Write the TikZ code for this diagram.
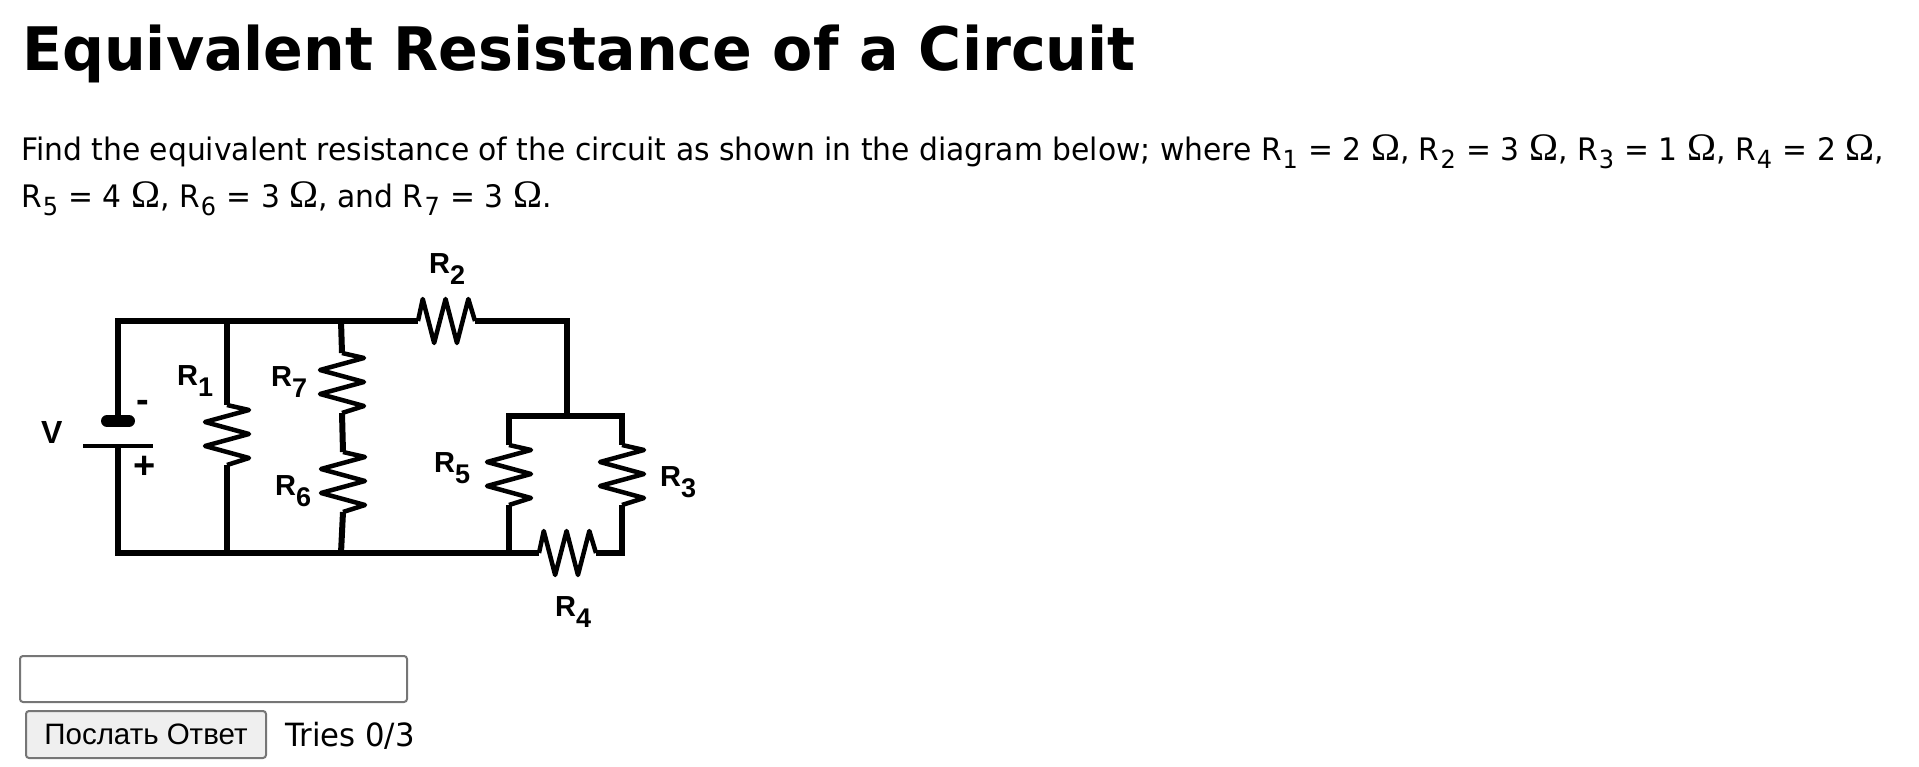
\documentclass[tikz,border=0pt]{standalone}
\usepackage{fontspec}
\setmainfont[FakeStretch=.96]{DejaVu Sans}
\newfontfamily\titlefont[FakeStretch=.977]{DejaVu Sans}
\newfontfamily\omegafont{Liberation Serif}
\newfontfamily\labelfont{Liberation Sans}
\usetikzlibrary{calc, positioning}
\definecolor{btnfill}{HTML}{EFEFEF}
\definecolor{btnline}{HTML}{767676}
\newcommand{\Rsub}[1]{R\hspace{1pt}\raisebox{-8pt}{\fontsize{25}{25}\selectfont #1}\hspace{1pt}}
\newcommand{\ohm}{{\omegafont\fontsize{39}{39}\selectfont\char"03A9}}
\newcommand{\Clabel}[1]{R\raisebox{-11pt}{\fontsize{27}{27}\selectfont #1}}
\tikzset{
	wire/.style={line width=6pt, line join=miter},
	rwire/.style={line width=4.5pt, line join=round},
	txt/.style={anchor=base west, inner sep=0pt, font=\fontsize{31}{31}\selectfont},
	rlabel/.style={anchor=base west, inner sep=0pt, font=\labelfont\bfseries\fontsize{29}{29}\selectfont},
	pics/resistor/.style={code={
		\draw[rwire] (0,0) -- (5,-22) -- (17,22) -- (29,-22) -- (41,22) -- (53,-22) -- (60,0);
		\coordinate (-in) at (0,0);
		\coordinate (-out) at (60,0);
	}}
}
\begin{document}
\begin{tikzpicture}[x=1pt, y=-1pt]
	\useasboundingbox (0,0) rectangle (1919,767);
	\node[txt, font=\titlefont\bfseries\fontsize{60}{60}\selectfont] (title) at (22,71) {Equivalent Resistance of a Circuit};
	\node[txt] (lineone) at (21,160.5) {Find the equivalent resistance of the circuit as shown in the diagram below; where \Rsub{1} = 2 \ohm, \Rsub{2} = 3 \ohm, \Rsub{3} = 1 \ohm, \Rsub{4} = 2 \ohm,};
	\node[txt] (linetwo) at (21,208) {\Rsub{5} = 4 \ohm, \Rsub{6} = 3 \ohm, and \Rsub{7} = 3 \ohm.};

	% corners and joints
	\coordinate (tl) at (118,321);
	\coordinate (tone) at (227,321);
	\coordinate (tsix) at (341,321);
	\coordinate (tr) at (567,321);
	\coordinate (bl) at (118,553);
	\coordinate (bone) at (227,553);
	\coordinate (bsix) at (341,553);
	\coordinate (bfive) at (509,553);
	\coordinate (bthree) at (622,553);
	\coordinate (mid) at (567,416);
	\coordinate (mfive) at (509,416);
	\coordinate (mthree) at (622,416);
	\coordinate (batneg) at (118,421);
	\coordinate (batpos) at (118,446);

	\pic[rotate=-90] (Rone) at (227,405) {resistor};
	\pic[xscale=.95] (Rtwo) at (418,321) {resistor};
	\pic[rotate=-90] (Rthree) at (622,445) {resistor};
	\pic[xscale=.95] (Rfour) at (539,553) {resistor};
	\pic[rotate=-90] (Rfive) at (509,445) {resistor};
	\pic[rotate=-90] (Rsix) at (343,452) {resistor};
	\pic[rotate=-90] (Rseven) at (342,353) {resistor};

	\draw[wire] (batneg) -- (tl) -- (Rtwo-in);
	\draw[wire] (Rtwo-out) -- (tr) -- (mid);
	\draw[wire] (Rfive-in) -- (mfive) -- (mthree) -- (Rthree-in);
	\draw[wire] (batpos) -- (bl) -- (Rfour-in);
	\draw[wire] (Rfour-out) -- (bthree) -- (Rthree-out);
	\draw[wire] (Rfive-out) -- (bfive);
	\draw[wire] (tone) -- (Rone-in);
	\draw[wire] (Rone-out) -- (bone);
	\draw[wire] (tsix) -- (Rseven-in);
	\draw[wire] (Rseven-out) -- (Rsix-in);
	\draw[wire] (Rsix-out) -- (bsix);

	% battery
	\draw[line width=12pt, line cap=round] (107,421) -- (129,421);
	\draw[line width=4pt] (83,446) -- (153,446);
	\node[rlabel, font=\labelfont\bfseries\fontsize{32}{32}\selectfont] (vlabel) at (41,443) {V};
	\node[rlabel, font=\labelfont\bfseries\fontsize{38}{38}\selectfont] (minus) at (136,412) {-};
	\node[rlabel, font=\labelfont\bfseries\fontsize{38}{38}\selectfont] (plus) at (133,478) {+};

	\node[rlabel] (labone) at (177,385) {\Clabel{1}};
	\node[rlabel] (labtwo) at (429,274) {\Clabel{2}};
	\node[rlabel] (labthree) at (660,486) {\Clabel{3}};
	\node[rlabel] (labfour) at (555,616) {\Clabel{4}};
	\node[rlabel] (labfive) at (434,472) {\Clabel{5}};
	\node[rlabel] (labsix) at (275,495) {\Clabel{6}};
	\node[rlabel] (labseven) at (271,386) {\Clabel{7}};

	% answer form
	\draw[btnline, line width=2pt, rounded corners=3pt, fill=white] (20,656) rectangle (407,702);
	\node[draw=btnline, fill=btnfill, line width=2pt, rounded corners=3pt, minimum width=240pt, minimum height=47pt, inner sep=0pt, anchor=north west, font=\labelfont\fontsize{29.5}{29.5}\selectfont] (submit) at (25,710) {Послать Ответ};
	\node[txt, font=\fontsize{32}{32}\selectfont] (tries) at (285,746) {Tries 0/3};
\end{tikzpicture}
\end{document}
